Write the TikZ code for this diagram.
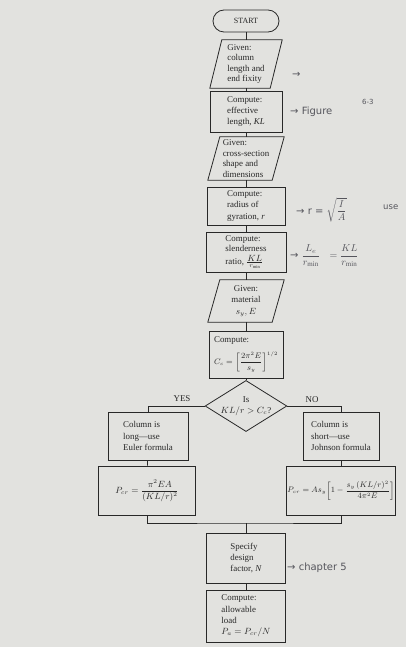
\documentclass[tikz,border=0pt]{standalone}
\usepackage{amsmath}
\usepackage{fontspec}
\setmainfont{Liberation Serif}
\newfontfamily\handfont{DejaVu Sans}
\usetikzlibrary{shapes.geometric}
\definecolor{paper}{RGB}{226,226,223}
\definecolor{ink}{RGB}{40,40,40}
\definecolor{pen}{RGB}{85,85,92}
\newcommand{\fs}{\fontsize{8.9}{11.4}\selectfont}
\newcommand{\fsp}{\fontsize{8.9}{10.4}\selectfont}
\newcommand{\paral}[1]{\draw[line] ([xshift=6pt]#1.north west) -- ([xshift=6pt]#1.north east) -- ([xshift=-6pt]#1.south east) -- ([xshift=-6pt]#1.south west) -- cycle;}
\begin{document}
\begin{tikzpicture}[x=1pt,y=-1pt,
  line/.style={draw=ink, line width=0.8pt},
  box/.style={line, rectangle, inner sep=1pt, align=left, font=\fs, text=ink},
  txt/.style={inner sep=0pt, align=left, font=\fsp, text=ink},
  lbl/.style={inner sep=0pt, font=\fs, text=ink},
  hand/.style={inner sep=0pt, text=pen, font=\handfont\fontsize{10}{11}\selectfont}]
\fill[paper] (0,0) rectangle (406,647);
\useasboundingbox (0,0) rectangle (406,647);
\def\cx{246}
% main column
\node[line, rectangle, rounded corners=11pt, minimum width=66pt, minimum height=22pt, inner sep=0pt, font=\fontsize{8}{9}\selectfont, text=ink] (start) at (\cx,21) {START};
\node[txt, minimum width=60pt, minimum height=48pt] (g1) at (\cx,64) {Given:\\column\\length and\\end fixity};
\paral{g1}
\node[box, minimum width=72pt, minimum height=41pt] (eff) at (\cx,111.5) {Compute:\\effective\\length, \textit{KL}};
\node[txt, minimum width=64pt, minimum height=43pt] (g2) at (\cx,158.5) {Given:\\cross-section\\shape and\\dimensions};
\paral{g2}
\node[box, minimum width=78pt, minimum height=38pt] (rad) at (\cx,206) {Compute:\\radius of\\gyration, \textit{r}};
\node[box, minimum width=80pt, minimum height=40pt, font=\fontsize{8.9}{10.4}\selectfont] (sl) at (\cx,252) {Compute:\\slenderness\\[3pt]ratio, $\genfrac{}{}{0.5pt}{1}{\textstyle KL}{r_{\mathrm{min}}}$};
\node[txt, minimum width=64pt, minimum height=42pt, align=center, font=\fontsize{8.9}{11.4}\selectfont] (g3) at (\cx,301) {Given:\\material\\$s_y, E$};
\paral{g3}
\node[box, minimum width=74pt, minimum height=47pt] (cc) at (\cx,354.5) {Compute:\\[6pt]{\fontsize{7.8}{9}\selectfont$C_c=\left[\dfrac{2\pi^2E}{s_y}\right]^{1/2}$}};
\node[line, diamond, aspect=1.6, minimum width=78pt, minimum height=50pt, inner sep=0pt, align=center, font=\fs, text=ink] (dia) at (\cx,406) {Is\\$KL/r > C_c$?};
% branches
\node[box, minimum width=80pt, minimum height=48pt] (lb) at (148,436) {Column is\\long---use\\Euler formula};
\node[box, minimum width=76pt, minimum height=48pt] (rb) at (341,436) {Column is\\short---use\\Johnson formula};
\node[box, minimum width=97pt, minimum height=49pt, font=\fontsize{8.6}{10}\selectfont] (lf) at (147,490.5) {$P_{cr}=\dfrac{\pi^2EA}{(KL/r)^2}$};
\node[box, minimum width=95pt, minimum height=49pt, font=\fontsize{7.6}{9}\selectfont] (rf) at (341,490.5) {$P_{cr}=As_y\!\left[1-\dfrac{s_y\,(KL/r)^2}{4\pi^2E}\right]$};
\node[box, minimum width=79pt, minimum height=50pt] (spec) at (\cx,558) {Specify\\design\\factor, \textit{N}};
\node[box, minimum width=79pt, minimum height=52pt] (allow) at (\cx,616) {Compute:\\allowable\\load\\$P_a=P_{cr}/N$};
\coordinate (m) at (\cx,523);
% connectors
\draw[line] (start) -- (g1);
\draw[line] (g1) -- (eff);
\draw[line] (eff) -- (g2);
\draw[line] (g2) -- (rad);
\draw[line] (rad) -- (sl);
\draw[line] (sl) -- (g3);
\draw[line] (g3) -- (cc);
\draw[line] (cc) -- (dia);
\draw[line] (dia.west) -| (lb.north);
\draw[line] (dia.east) -| (rb.north);
\draw[line] (lb) -- (lf);
\draw[line] (rb) -- (rf);
\draw[line] (lf.south) |- (m) -| (rf.south);
\draw[line] (m) -- (spec.north);
\draw[line] (spec) -- (allow);
\node[lbl] (yes) at (182,398.5) {YES};
\node[lbl] (no) at (312,399.5) {NO};
% handwritten notes
\node[hand, anchor=west] (h1) at (292,75) {→};
\node[hand, anchor=west] (h2) at (290,112) {→ Figure};
\node[hand, anchor=west, font=\handfont\fontsize{7}{8}\selectfont] (h2b) at (362,102) {6-3};
\node[hand, anchor=west] (h3) at (296,210) {→ r = $\sqrt{\dfrac{I}{A}}$};
\node[hand, anchor=west, font=\handfont\fontsize{8.5}{9}\selectfont] (h3b) at (383,207) {use};
\node[hand, anchor=west] (h4) at (290,256) {→ $\dfrac{L_e}{r_{\mathrm{min}}}$ \ \ $=\dfrac{KL}{r_{\mathrm{min}}}$};
\node[hand, anchor=west] (h5) at (287,568) {→ chapter 5};
\end{tikzpicture}
\end{document}
